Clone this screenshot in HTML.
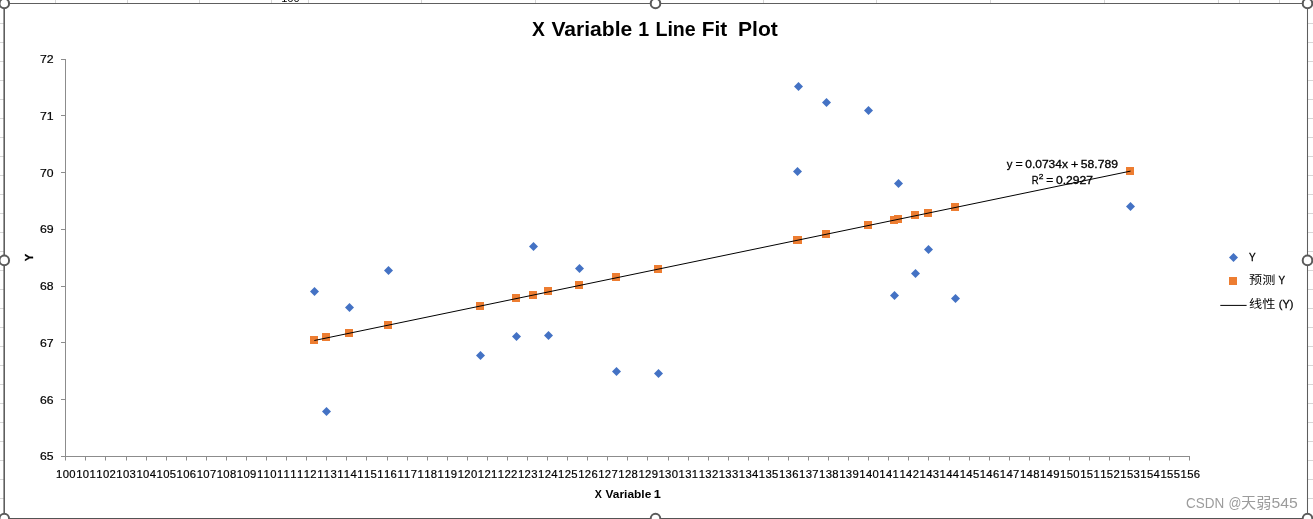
<!DOCTYPE html>
<html lang="zh">
<head>
<meta charset="utf-8">
<title>X Variable 1 Line Fit Plot</title>
<style>
html,body{margin:0;padding:0;background:#fff;}
body{width:1313px;height:519px;overflow:hidden;position:relative;font-family:"Liberation Sans","Noto Sans CJK SC",sans-serif;}
svg{position:absolute;left:0;top:0;display:block;will-change:transform;}
text{font-family:"Liberation Sans","Noto Sans CJK SC",sans-serif;fill:#000;}
.txt{filter:grayscale(1);}
.tick{font-size:11.3px;letter-spacing:0.35px;font-kerning:none;stroke:#000;stroke-width:0.2px;}
.ax{stroke:#8c8c8c;stroke-width:1;fill:none;}
.grid{stroke:#d6d6d6;stroke-width:1;fill:none;}
.frame{stroke:#5e5e5e;fill:none;}
.hd{stroke:#5a5a5a;stroke-width:2;fill:#fff;}
.b{fill:#4472c4;}
.o{fill:#ed7d31;}
</style>
</head>
<body>
<svg width="1313" height="519" viewBox="0 0 1313 519">
<rect x="0" y="0" width="1313" height="519" fill="#fff"/>
<g class="grid">
<line x1="55.5" y1="0" x2="55.5" y2="3"/>
<line x1="127.5" y1="0" x2="127.5" y2="3"/>
<line x1="199.5" y1="0" x2="199.5" y2="3"/>
<line x1="271.5" y1="0" x2="271.5" y2="3"/>
<line x1="308.5" y1="0" x2="308.5" y2="3"/>
<line x1="421.5" y1="0" x2="421.5" y2="3"/>
<line x1="535.5" y1="0" x2="535.5" y2="3"/>
<line x1="763.5" y1="0" x2="763.5" y2="3"/>
<line x1="876.5" y1="0" x2="876.5" y2="3"/>
<line x1="990.5" y1="0" x2="990.5" y2="3"/>
<line x1="1104.5" y1="0" x2="1104.5" y2="3"/>
<line x1="1218.5" y1="0" x2="1218.5" y2="3"/>
<line x1="1239.5" y1="0" x2="1239.5" y2="3"/>
<line x1="1279.5" y1="0" x2="1279.5" y2="3"/>
<line x1="0" y1="23.5" x2="4" y2="23.5"/>
<line x1="1308" y1="23.5" x2="1313" y2="23.5"/>
<line x1="0" y1="42.5" x2="4" y2="42.5"/>
<line x1="1308" y1="42.5" x2="1313" y2="42.5"/>
<line x1="0" y1="61.5" x2="4" y2="61.5"/>
<line x1="1308" y1="61.5" x2="1313" y2="61.5"/>
<line x1="0" y1="80.5" x2="4" y2="80.5"/>
<line x1="1308" y1="80.5" x2="1313" y2="80.5"/>
<line x1="0" y1="99.5" x2="4" y2="99.5"/>
<line x1="1308" y1="99.5" x2="1313" y2="99.5"/>
<line x1="0" y1="118.5" x2="4" y2="118.5"/>
<line x1="1308" y1="118.5" x2="1313" y2="118.5"/>
<line x1="0" y1="137.5" x2="4" y2="137.5"/>
<line x1="1308" y1="137.5" x2="1313" y2="137.5"/>
<line x1="0" y1="156.5" x2="4" y2="156.5"/>
<line x1="1308" y1="156.5" x2="1313" y2="156.5"/>
<line x1="0" y1="175.5" x2="4" y2="175.5"/>
<line x1="1308" y1="175.5" x2="1313" y2="175.5"/>
<line x1="0" y1="194.5" x2="4" y2="194.5"/>
<line x1="1308" y1="194.5" x2="1313" y2="194.5"/>
<line x1="0" y1="213.5" x2="4" y2="213.5"/>
<line x1="1308" y1="213.5" x2="1313" y2="213.5"/>
<line x1="0" y1="232.5" x2="4" y2="232.5"/>
<line x1="1308" y1="232.5" x2="1313" y2="232.5"/>
<line x1="0" y1="251.5" x2="4" y2="251.5"/>
<line x1="1308" y1="251.5" x2="1313" y2="251.5"/>
<line x1="0" y1="270.5" x2="4" y2="270.5"/>
<line x1="1308" y1="270.5" x2="1313" y2="270.5"/>
<line x1="0" y1="289.5" x2="4" y2="289.5"/>
<line x1="1308" y1="289.5" x2="1313" y2="289.5"/>
<line x1="0" y1="308.5" x2="4" y2="308.5"/>
<line x1="1308" y1="308.5" x2="1313" y2="308.5"/>
<line x1="0" y1="327.5" x2="4" y2="327.5"/>
<line x1="1308" y1="327.5" x2="1313" y2="327.5"/>
<line x1="0" y1="346.5" x2="4" y2="346.5"/>
<line x1="1308" y1="346.5" x2="1313" y2="346.5"/>
<line x1="0" y1="365.5" x2="4" y2="365.5"/>
<line x1="1308" y1="365.5" x2="1313" y2="365.5"/>
<line x1="0" y1="384.5" x2="4" y2="384.5"/>
<line x1="1308" y1="384.5" x2="1313" y2="384.5"/>
<line x1="0" y1="403.5" x2="4" y2="403.5"/>
<line x1="1308" y1="403.5" x2="1313" y2="403.5"/>
<line x1="0" y1="422.5" x2="4" y2="422.5"/>
<line x1="1308" y1="422.5" x2="1313" y2="422.5"/>
<line x1="0" y1="441.5" x2="4" y2="441.5"/>
<line x1="1308" y1="441.5" x2="1313" y2="441.5"/>
<line x1="0" y1="460.5" x2="4" y2="460.5"/>
<line x1="1308" y1="460.5" x2="1313" y2="460.5"/>
<line x1="0" y1="479.5" x2="4" y2="479.5"/>
<line x1="1308" y1="479.5" x2="1313" y2="479.5"/>
<line x1="0" y1="498.5" x2="4" y2="498.5"/>
<line x1="1308" y1="498.5" x2="1313" y2="498.5"/>
<line x1="0" y1="517.5" x2="4" y2="517.5"/>
<line x1="1308" y1="517.5" x2="1313" y2="517.5"/>
</g>
<g class="frame">
<line x1="4" y1="3.48" x2="1308" y2="3.48" stroke-width="1.05"/>
<line x1="4.2" y1="3" x2="4.2" y2="519" stroke-width="1.6"/>
<line x1="1307.5" y1="3" x2="1307.5" y2="519" stroke-width="1.05"/>
<line x1="4" y1="518.5" x2="1308" y2="518.5" stroke-width="1" stroke="#545454"/>
</g>
<g class="ax">
<line x1="65.5" y1="59.0" x2="65.5" y2="457.0"/>
<line x1="61" y1="456.5" x2="1190" y2="456.5"/>
<line x1="61" y1="59.5" x2="65.5" y2="59.5"/>
<line x1="61" y1="115.5" x2="65.5" y2="115.5"/>
<line x1="61" y1="172.5" x2="65.5" y2="172.5"/>
<line x1="61" y1="229.5" x2="65.5" y2="229.5"/>
<line x1="61" y1="286.5" x2="65.5" y2="286.5"/>
<line x1="61" y1="342.5" x2="65.5" y2="342.5"/>
<line x1="61" y1="399.5" x2="65.5" y2="399.5"/>
<line x1="61" y1="456.5" x2="65.5" y2="456.5"/>
<line x1="65.5" y1="456.5" x2="65.5" y2="460.5"/>
<line x1="85.5" y1="456.5" x2="85.5" y2="460.5"/>
<line x1="105.5" y1="456.5" x2="105.5" y2="460.5"/>
<line x1="126.5" y1="456.5" x2="126.5" y2="460.5"/>
<line x1="146.5" y1="456.5" x2="146.5" y2="460.5"/>
<line x1="166.5" y1="456.5" x2="166.5" y2="460.5"/>
<line x1="186.5" y1="456.5" x2="186.5" y2="460.5"/>
<line x1="206.5" y1="456.5" x2="206.5" y2="460.5"/>
<line x1="226.5" y1="456.5" x2="226.5" y2="460.5"/>
<line x1="246.5" y1="456.5" x2="246.5" y2="460.5"/>
<line x1="266.5" y1="456.5" x2="266.5" y2="460.5"/>
<line x1="286.5" y1="456.5" x2="286.5" y2="460.5"/>
<line x1="306.5" y1="456.5" x2="306.5" y2="460.5"/>
<line x1="326.5" y1="456.5" x2="326.5" y2="460.5"/>
<line x1="346.5" y1="456.5" x2="346.5" y2="460.5"/>
<line x1="366.5" y1="456.5" x2="366.5" y2="460.5"/>
<line x1="387.5" y1="456.5" x2="387.5" y2="460.5"/>
<line x1="407.5" y1="456.5" x2="407.5" y2="460.5"/>
<line x1="427.5" y1="456.5" x2="427.5" y2="460.5"/>
<line x1="447.5" y1="456.5" x2="447.5" y2="460.5"/>
<line x1="467.5" y1="456.5" x2="467.5" y2="460.5"/>
<line x1="487.5" y1="456.5" x2="487.5" y2="460.5"/>
<line x1="507.5" y1="456.5" x2="507.5" y2="460.5"/>
<line x1="527.5" y1="456.5" x2="527.5" y2="460.5"/>
<line x1="547.5" y1="456.5" x2="547.5" y2="460.5"/>
<line x1="567.5" y1="456.5" x2="567.5" y2="460.5"/>
<line x1="587.5" y1="456.5" x2="587.5" y2="460.5"/>
<line x1="607.5" y1="456.5" x2="607.5" y2="460.5"/>
<line x1="627.5" y1="456.5" x2="627.5" y2="460.5"/>
<line x1="647.5" y1="456.5" x2="647.5" y2="460.5"/>
<line x1="668.5" y1="456.5" x2="668.5" y2="460.5"/>
<line x1="688.5" y1="456.5" x2="688.5" y2="460.5"/>
<line x1="708.5" y1="456.5" x2="708.5" y2="460.5"/>
<line x1="728.5" y1="456.5" x2="728.5" y2="460.5"/>
<line x1="748.5" y1="456.5" x2="748.5" y2="460.5"/>
<line x1="768.5" y1="456.5" x2="768.5" y2="460.5"/>
<line x1="788.5" y1="456.5" x2="788.5" y2="460.5"/>
<line x1="808.5" y1="456.5" x2="808.5" y2="460.5"/>
<line x1="828.5" y1="456.5" x2="828.5" y2="460.5"/>
<line x1="848.5" y1="456.5" x2="848.5" y2="460.5"/>
<line x1="868.5" y1="456.5" x2="868.5" y2="460.5"/>
<line x1="888.5" y1="456.5" x2="888.5" y2="460.5"/>
<line x1="908.5" y1="456.5" x2="908.5" y2="460.5"/>
<line x1="928.5" y1="456.5" x2="928.5" y2="460.5"/>
<line x1="949.5" y1="456.5" x2="949.5" y2="460.5"/>
<line x1="969.5" y1="456.5" x2="969.5" y2="460.5"/>
<line x1="989.5" y1="456.5" x2="989.5" y2="460.5"/>
<line x1="1009.5" y1="456.5" x2="1009.5" y2="460.5"/>
<line x1="1029.5" y1="456.5" x2="1029.5" y2="460.5"/>
<line x1="1049.5" y1="456.5" x2="1049.5" y2="460.5"/>
<line x1="1069.5" y1="456.5" x2="1069.5" y2="460.5"/>
<line x1="1089.5" y1="456.5" x2="1089.5" y2="460.5"/>
<line x1="1109.5" y1="456.5" x2="1109.5" y2="460.5"/>
<line x1="1129.5" y1="456.5" x2="1129.5" y2="460.5"/>
<line x1="1149.5" y1="456.5" x2="1149.5" y2="460.5"/>
<line x1="1169.5" y1="456.5" x2="1169.5" y2="460.5"/>
<line x1="1189.5" y1="456.5" x2="1189.5" y2="460.5"/>
</g>
<g class="o">
<rect x="310" y="336" width="8" height="8"/>
<rect x="322" y="333" width="8" height="8"/>
<rect x="345" y="329" width="8" height="8"/>
<rect x="384" y="321" width="8" height="8"/>
<rect x="476" y="302" width="8" height="8"/>
<rect x="512" y="294" width="8" height="8"/>
<rect x="529" y="291" width="8" height="8"/>
<rect x="544" y="287" width="8" height="8"/>
<rect x="575" y="281" width="8" height="8"/>
<rect x="612" y="273" width="8" height="8"/>
<rect x="654" y="265" width="8" height="8"/>
<rect x="793" y="236" width="8" height="8"/>
<rect x="794" y="236" width="8" height="8"/>
<rect x="822" y="230" width="8" height="8"/>
<rect x="864" y="221" width="8" height="8"/>
<rect x="890" y="216" width="8" height="8"/>
<rect x="894" y="215" width="8" height="8"/>
<rect x="911" y="211" width="8" height="8"/>
<rect x="924" y="209" width="8" height="8"/>
<rect x="951" y="203" width="8" height="8"/>
<rect x="1126" y="167" width="8" height="8"/>
</g>
<line x1="314.3" y1="340.5" x2="1130.6" y2="171.1" stroke="#000" stroke-width="1"/>
<g class="b">
<path d="M314.5 287.0L319.0 291.5L314.5 296.0L310.0 291.5Z"/>
<path d="M326.5 407.0L331.0 411.5L326.5 416.0L322.0 411.5Z"/>
<path d="M349.5 303.0L354.0 307.5L349.5 312.0L345.0 307.5Z"/>
<path d="M388.5 266.0L393.0 270.5L388.5 275.0L384.0 270.5Z"/>
<path d="M480.5 351.0L485.0 355.5L480.5 360.0L476.0 355.5Z"/>
<path d="M516.5 332.0L521.0 336.5L516.5 341.0L512.0 336.5Z"/>
<path d="M533.5 242.0L538.0 246.5L533.5 251.0L529.0 246.5Z"/>
<path d="M548.5 331.0L553.0 335.5L548.5 340.0L544.0 335.5Z"/>
<path d="M579.5 264.0L584.0 268.5L579.5 273.0L575.0 268.5Z"/>
<path d="M616.5 367.0L621.0 371.5L616.5 376.0L612.0 371.5Z"/>
<path d="M658.5 369.0L663.0 373.5L658.5 378.0L654.0 373.5Z"/>
<path d="M797.5 167.0L802.0 171.5L797.5 176.0L793.0 171.5Z"/>
<path d="M798.5 82.0L803.0 86.5L798.5 91.0L794.0 86.5Z"/>
<path d="M826.5 98.0L831.0 102.5L826.5 107.0L822.0 102.5Z"/>
<path d="M868.5 106.0L873.0 110.5L868.5 115.0L864.0 110.5Z"/>
<path d="M894.5 291.0L899.0 295.5L894.5 300.0L890.0 295.5Z"/>
<path d="M898.5 179.0L903.0 183.5L898.5 188.0L894.0 183.5Z"/>
<path d="M915.5 269.0L920.0 273.5L915.5 278.0L911.0 273.5Z"/>
<path d="M928.5 245.0L933.0 249.5L928.5 254.0L924.0 249.5Z"/>
<path d="M955.5 294.0L960.0 298.5L955.5 303.0L951.0 298.5Z"/>
<path d="M1130.5 202.0L1135.0 206.5L1130.5 211.0L1126.0 206.5Z"/>
</g>
<path class="b" d="M1233.5 253L1238 257.5L1233.5 262L1229 257.5Z"/>
<rect class="o" x="1229" y="277" width="8" height="8"/>
<line x1="1220.3" y1="305.4" x2="1246.6" y2="305.4" stroke="#000" stroke-width="1"/>
<g class="txt">
<g>
<text x="39.92" y="63.1" font-size="11.3" textLength="13.71" lengthAdjust="spacingAndGlyphs" style="letter-spacing:0;stroke:#000;stroke-width:0.2px">72</text>
<text x="39.92" y="120.1" font-size="11.3" textLength="13.71" lengthAdjust="spacingAndGlyphs" style="letter-spacing:0;stroke:#000;stroke-width:0.2px">71</text>
<text x="39.93" y="177.1" font-size="11.3" textLength="13.56" lengthAdjust="spacingAndGlyphs" style="letter-spacing:0;stroke:#000;stroke-width:0.2px">70</text>
<text x="39.92" y="233.1" font-size="11.3" textLength="13.71" lengthAdjust="spacingAndGlyphs" style="letter-spacing:0;stroke:#000;stroke-width:0.2px">69</text>
<text x="39.93" y="290.1" font-size="11.3" textLength="13.56" lengthAdjust="spacingAndGlyphs" style="letter-spacing:0;stroke:#000;stroke-width:0.2px">68</text>
<text x="39.92" y="347.1" font-size="11.3" textLength="13.71" lengthAdjust="spacingAndGlyphs" style="letter-spacing:0;stroke:#000;stroke-width:0.2px">67</text>
<text x="39.93" y="404.1" font-size="11.3" textLength="13.56" lengthAdjust="spacingAndGlyphs" style="letter-spacing:0;stroke:#000;stroke-width:0.2px">66</text>
<text x="39.93" y="460.1" font-size="11.3" textLength="13.56" lengthAdjust="spacingAndGlyphs" style="letter-spacing:0;stroke:#000;stroke-width:0.2px">65</text>
</g>
<g class="tick">
<text x="56.10" y="478.3">100</text>
<text x="76.18" y="478.3">101</text>
<text x="96.26" y="478.3">102</text>
<text x="116.34" y="478.3">103</text>
<text x="136.42" y="478.3">104</text>
<text x="156.50" y="478.3">105</text>
<text x="176.57" y="478.3">106</text>
<text x="196.65" y="478.3">107</text>
<text x="216.73" y="478.3">108</text>
<text x="236.81" y="478.3">109</text>
<text x="256.89" y="478.3">110</text>
<text x="276.97" y="478.3">111</text>
<text x="297.05" y="478.3">112</text>
<text x="317.13" y="478.3">113</text>
<text x="337.21" y="478.3">114</text>
<text x="357.29" y="478.3">115</text>
<text x="377.36" y="478.3">116</text>
<text x="397.44" y="478.3">117</text>
<text x="417.52" y="478.3">118</text>
<text x="437.60" y="478.3">119</text>
<text x="457.68" y="478.3">120</text>
<text x="477.76" y="478.3">121</text>
<text x="497.84" y="478.3">122</text>
<text x="517.92" y="478.3">123</text>
<text x="538.00" y="478.3">124</text>
<text x="558.08" y="478.3">125</text>
<text x="578.15" y="478.3">126</text>
<text x="598.23" y="478.3">127</text>
<text x="618.31" y="478.3">128</text>
<text x="638.39" y="478.3">129</text>
<text x="658.47" y="478.3">130</text>
<text x="678.55" y="478.3">131</text>
<text x="698.63" y="478.3">132</text>
<text x="718.71" y="478.3">133</text>
<text x="738.79" y="478.3">134</text>
<text x="758.87" y="478.3">135</text>
<text x="778.94" y="478.3">136</text>
<text x="799.02" y="478.3">137</text>
<text x="819.10" y="478.3">138</text>
<text x="839.18" y="478.3">139</text>
<text x="859.26" y="478.3">140</text>
<text x="879.34" y="478.3">141</text>
<text x="899.42" y="478.3">142</text>
<text x="919.50" y="478.3">143</text>
<text x="939.58" y="478.3">144</text>
<text x="959.66" y="478.3">145</text>
<text x="979.73" y="478.3">146</text>
<text x="999.81" y="478.3">147</text>
<text x="1019.89" y="478.3">148</text>
<text x="1039.97" y="478.3">149</text>
<text x="1060.05" y="478.3">150</text>
<text x="1080.13" y="478.3">151</text>
<text x="1100.21" y="478.3">152</text>
<text x="1120.29" y="478.3">153</text>
<text x="1140.37" y="478.3">154</text>
<text x="1160.44" y="478.3">155</text>
<text x="1180.52" y="478.3">156</text>
</g>
<text x="281.2" y="2.4" font-size="11">160</text>
<text x="532.07" y="35.5" font-size="21" font-weight="bold" textLength="12.87" lengthAdjust="spacingAndGlyphs">X</text>
<text x="551.45" y="35.5" font-size="21" font-weight="bold" textLength="80.84" lengthAdjust="spacingAndGlyphs">Variable</text>
<text x="638.32" y="35.5" font-size="21" font-weight="bold" textLength="10.91" lengthAdjust="spacingAndGlyphs">1</text>
<text x="655.42" y="35.5" font-size="21" font-weight="bold" textLength="40.31" lengthAdjust="spacingAndGlyphs">Line</text>
<text x="701.74" y="35.5" font-size="21" font-weight="bold" textLength="25.44" lengthAdjust="spacingAndGlyphs">Fit</text>
<text x="738.02" y="35.5" font-size="21" font-weight="bold" textLength="39.78" lengthAdjust="spacingAndGlyphs">Plot</text>
<text x="594.68" y="497.8" font-size="11" font-weight="bold" textLength="7.11" lengthAdjust="spacingAndGlyphs">X</text>
<text x="605.56" y="497.8" font-size="11" font-weight="bold" textLength="45.73" lengthAdjust="spacingAndGlyphs">Variable</text>
<text x="653.83" y="497.8" font-size="11" font-weight="bold" textLength="7.10" lengthAdjust="spacingAndGlyphs">1</text>
<text transform="translate(32.8,257.7) rotate(-90)" text-anchor="middle" font-size="11" font-weight="bold" style="stroke:#000;stroke-width:0.3px">Y</text>
<text x="1006.67" y="167.8" font-size="10.8" textLength="5.66" lengthAdjust="spacingAndGlyphs" style="stroke:#000;stroke-width:0.3px">y</text>
<text x="1015.63" y="167.8" font-size="10.8" textLength="7.21" lengthAdjust="spacingAndGlyphs" style="stroke:#000;stroke-width:0.3px">=</text>
<text x="1025.28" y="167.8" font-size="10.8" textLength="42.71" lengthAdjust="spacingAndGlyphs" style="stroke:#000;stroke-width:0.3px">0.0734x</text>
<text x="1070.92" y="167.8" font-size="10.8" textLength="7.33" lengthAdjust="spacingAndGlyphs" style="stroke:#000;stroke-width:0.3px">+</text>
<text x="1080.84" y="167.8" font-size="10.8" textLength="37.16" lengthAdjust="spacingAndGlyphs" style="stroke:#000;stroke-width:0.3px">58.789</text>
<text x="1031.83" y="183.7" font-size="10.8" textLength="6.86" lengthAdjust="spacingAndGlyphs" style="stroke:#000;stroke-width:0.3px">R</text>
<text x="1046.35" y="183.7" font-size="10.8" textLength="6.97" lengthAdjust="spacingAndGlyphs" style="stroke:#000;stroke-width:0.3px">=</text>
<text x="1055.98" y="183.7" font-size="10.8" textLength="37.02" lengthAdjust="spacingAndGlyphs" style="stroke:#000;stroke-width:0.3px">0.2927</text>
<text x="1038.73" y="179.4" font-size="6.6" textLength="4.65" lengthAdjust="spacingAndGlyphs" style="stroke:#000;stroke-width:0.3px">2</text>
<text x="1249.05" y="260.9" font-size="10.8" textLength="6.65" lengthAdjust="spacingAndGlyphs" style="stroke:#000;stroke-width:0.3px">Y</text>
<text x="1249.14" y="284.2" font-size="11.7" textLength="26.26" lengthAdjust="spacingAndGlyphs">预测</text>
<text x="1278.56" y="283.9" font-size="10.8" textLength="6.54" lengthAdjust="spacingAndGlyphs" style="stroke:#000;stroke-width:0.3px">Y</text>
<text x="1248.99" y="307.9" font-size="11.7" textLength="26.43" lengthAdjust="spacingAndGlyphs">线性</text>
<text x="1278.78" y="308.3" font-size="11.4" textLength="14.58" lengthAdjust="spacingAndGlyphs" style="stroke:#000;stroke-width:0.3px">(Y)</text>
<text x="1185.91" y="507.7" font-size="14.6" textLength="38.23" lengthAdjust="spacingAndGlyphs" style="fill:#9c9c9c">CSDN</text>
<text x="1228.62" y="507.7" font-size="14.6" textLength="12.94" lengthAdjust="spacingAndGlyphs" style="fill:#9c9c9c">@</text>
<text x="1241.12" y="507.9" font-size="14.6" textLength="30.19" lengthAdjust="spacingAndGlyphs" style="fill:#9c9c9c">天弱</text>
<text x="1271.42" y="507.7" font-size="14.6" textLength="26.33" lengthAdjust="spacingAndGlyphs" style="fill:#9c9c9c">545</text>
</g>
<g class="hd">
<circle cx="4.28" cy="3.47" r="4.8"/>
<circle cx="655.5" cy="3.47" r="4.8"/>
<circle cx="1307.5" cy="3.47" r="4.8"/>
<circle cx="4.28" cy="260.4" r="4.8"/>
<circle cx="1307.5" cy="260.4" r="4.8"/>
<circle cx="4.28" cy="518.55" r="4.8"/>
<circle cx="655.5" cy="518.55" r="4.8"/>
<circle cx="1307.5" cy="518.55" r="4.8"/>
</g>
</svg>
</body>
</html>
